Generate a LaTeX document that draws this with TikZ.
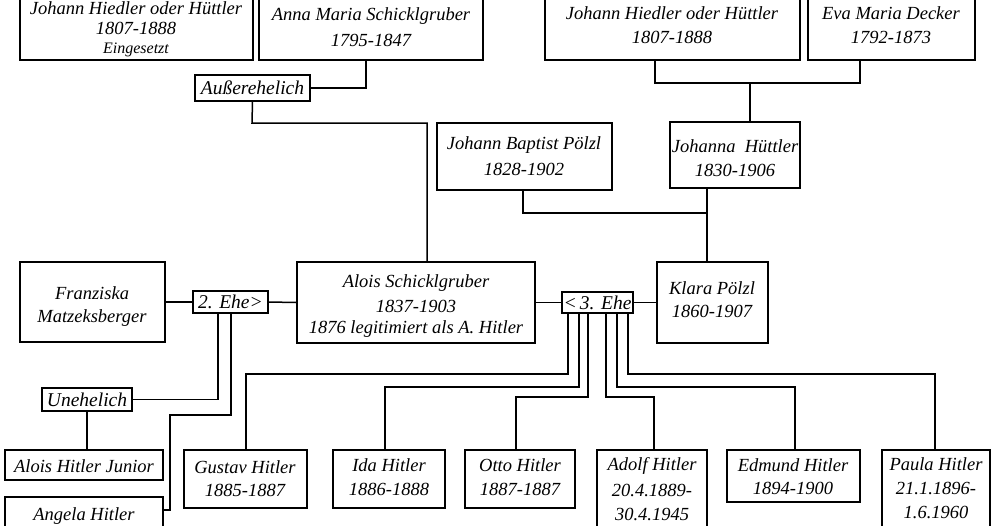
\documentclass[tikz,border=0pt]{standalone}
\usepackage{fontspec}
\setmainfont{Liberation Serif}
\begin{document}
\begin{tikzpicture}[x=1pt,y=-1pt,
  bx/.style={draw,line width=1.5pt,inner sep=0pt},
  lb/.style={draw,line width=1.2pt,inner sep=0pt,font=\itshape\fontsize{19.5}{20}\selectfont},
  ln/.style={line width=1.5pt}]
\useasboundingbox (0,0) rectangle (1000,525);
\clip (0,0) rectangle (1000,525);
\newcommand{\pbox}[5]{\node[bx,minimum width={#3-#1},minimum height={#4-#2}] (#5) at ({(#1+#3)/2},{(#2+#4)/2}) {};}
\pbox{20}{-5}{253}{60}{jhl}
\pbox{259}{-5}{483}{60}{anna}
\pbox{545}{-5}{800}{60}{jhr}
\pbox{808}{-5}{975}{60}{eva}
\pbox{437}{123}{612}{190}{jbp}
\pbox{670}{122}{800}{188}{joh}
\pbox{20}{262}{165}{342}{fra}
\pbox{297}{262}{535}{343}{alo}
\pbox{657}{262}{768}{343}{kla}
\pbox{5}{450}{163}{480}{aj}
\pbox{5}{497}{163}{540}{ang}
\pbox{184}{450}{307}{508}{gus}
\pbox{333}{450}{445}{508}{ida}
\pbox{465}{450}{575}{508}{ott}
\pbox{597}{450}{707}{540}{ado}
\pbox{727}{450}{860}{502}{edm}
\pbox{882}{450}{990}{540}{pau}
\tikzset{t/.style={font=\itshape\fontsize{18.5}{20}\selectfont,inner sep=0pt}}
\node[t] at (136,8) {Johann Hiedler oder Hüttler};
\node[t] at (136,28) {1807-1888};
\node[t,font=\itshape\fontsize{16}{18}\selectfont] at (136,50) {Eingesetzt};
\node[t] at (371,16) {Anna Maria Schicklgruber};
\node[t] at (371,40) {1795-1847};
\node[t] at (672,13) {Johann Hiedler oder Hüttler};
\node[t] at (672,37) {1807-1888};
\node[t] at (891,13) {Eva Maria Decker};
\node[t] at (891,37) {1792-1873};
\node[t] at (524,145) {Johann Baptist Pölzl};
\node[t] at (524,169) {1828-1902};
\node[t] at (735,146) {Johanna\ \ Hüttler};
\node[t] at (735,170) {1830-1906};
\node[t] at (92,293) {Franziska};
\node[t] at (92,318) {Matzeksberger};
\node[t] at (416,283) {Alois Schicklgruber};
\node[t] at (416,306) {1837-1903};
\node[t] at (416,329) {1876 legitimiert als A. Hitler};
\node[t] at (712,288) {Klara Pölzl};
\node[t] at (712,311) {1860-1907};
\node[t] at (84,466) {Alois Hitler Junior};
\node[t] at (84,516) {Angela Hitler};
\node[t] at (245,467) {Gustav Hitler};
\node[t] at (245,490) {1885-1887};
\node[t] at (389,465) {Ida Hitler};
\node[t] at (389,489) {1886-1888};
\node[t] at (520,465) {Otto Hitler};
\node[t] at (520,489) {1887-1887};
\node[t] at (652,466) {Adolf Hitler};
\node[t] at (652,490) {20.4.1889-};
\node[t] at (652,514) {30.4.1945};
\node[t] at (793,465) {Edmund Hitler};
\node[t] at (793,488) {1894-1900};
\node[t] at (936,464) {Paula Hitler};
\node[t] at (936,488) {21.1.1896-};
\node[t] at (936,512) {1.6.1960};
\node[lb,minimum width=115,minimum height=26] (aus) at (252.5,88) {Außerehelich};
\node[lb,minimum width=75,minimum height=22] (e2) at (230.5,302) {2. Ehe>};
\node[lb,minimum width=71,minimum height=21] (e3) at (597.5,302.5) {<\,3. Ehe};
\node[lb,minimum width=90,minimum height=23] (une) at (87,399.5) {Unehelich};
\draw[ln] (anna.south -| 366,0) |- (aus.east);
\draw[ln] (aus.south) -- (252,123) -| (alo.north -| 427,0);
\draw[ln] (jhr.south -| 655,0) |- (860,83) -- (eva.south -| 860,0);
\draw[ln] (750,83) -- (joh.north -| 750,0);
\draw[ln] (jbp.south -| 523,0) |- (707,213) -- (joh.south -| 707,0);
\draw[ln] (707,213) -- (kla.north -| 707,0);
\draw[ln] (fra.east) -- (e2.west);
\draw[ln] (e2.east) -- (alo.west);
\draw[ln] (alo.east) -- (e3.west);
\draw[ln] (e3.east) -- (kla.west);
\draw[ln] (e2.south -| 218,0) |- (une.east);
\draw[ln] (une.south) -- (aj.north -| une.south);
\draw[ln] (e2.south -| 231,0) |- (170,415) |- (ang.east |- 0,510);
\draw[ln] (e3.south -| 568,0) |- (246,374) -- (gus.north -| 246,0);
\draw[ln] (e3.south -| 579,0) |- (385,387) -- (ida.north -| 385,0);
\draw[ln] (e3.south -| 588,0) |- (516,397) -- (ott.north -| 516,0);
\draw[ln] (e3.south -| 606,0) |- (654,397) -- (ado.north -| 654,0);
\draw[ln] (e3.south -| 617,0) |- (795,387) -- (edm.north -| 795,0);
\draw[ln] (e3.south -| 628,0) |- (935,374) -- (pau.north -| 935,0);
\end{tikzpicture}
\end{document}
